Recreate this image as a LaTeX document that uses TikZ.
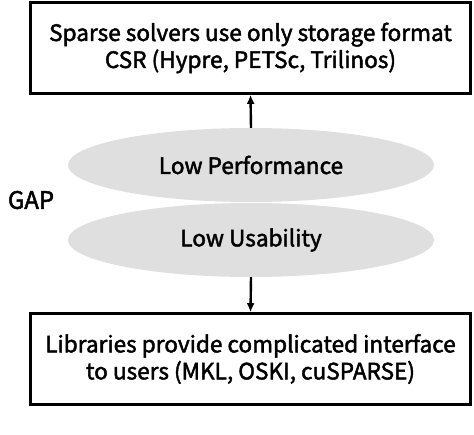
\documentclass[tikz,border=0pt]{standalone}
\usepackage{fontspec}
\setmainfont{Noto Sans CJK SC}[FakeBold=2]
\usetikzlibrary{shapes.geometric,arrows.meta}

\begin{document}
\begin{tikzpicture}[x=1pt, y=1pt,
    box/.style={draw, line width=2.6pt, minimum width=440pt, minimum height=91pt,
      align=center, font=\fontsize{22.6}{27}\selectfont},
    gapoval/.style={ellipse, fill=gray!25, minimum width=366pt, minimum height=74pt,
      inner sep=0pt, font=\fontsize{22.6}{24}\selectfont},
    link/.style={line width=2.4pt, -{Latex[length=9pt, width=8pt]}}]
    \useasboundingbox (0,0) rectangle (474,-434);

    % Storage format side
    \node[box] (solvers) at (250.5,-48)
        {Sparse solvers use only storage format\\CSR (Hypre, PETSc, Trilinos)};

    % The gap
    \node[gapoval] (perf) at (251,-165) {Low Performance};
    \node[gapoval] (usab) at (251,-240) {Low Usability};
    \node[font=\fontsize{24}{24}\selectfont] (gap) at (31,-200) {GAP};

    % Library side
    \node[box] (libs) at (250.5,-359)
        {Libraries provide complicated interface\\to users (MKL, OSKI, cuSPARSE)};

    % Connectors
    \draw[link] (perf.north) -- (solvers.south);
    \draw[link] (usab.south) -- (libs.north);
\end{tikzpicture}
\end{document}
